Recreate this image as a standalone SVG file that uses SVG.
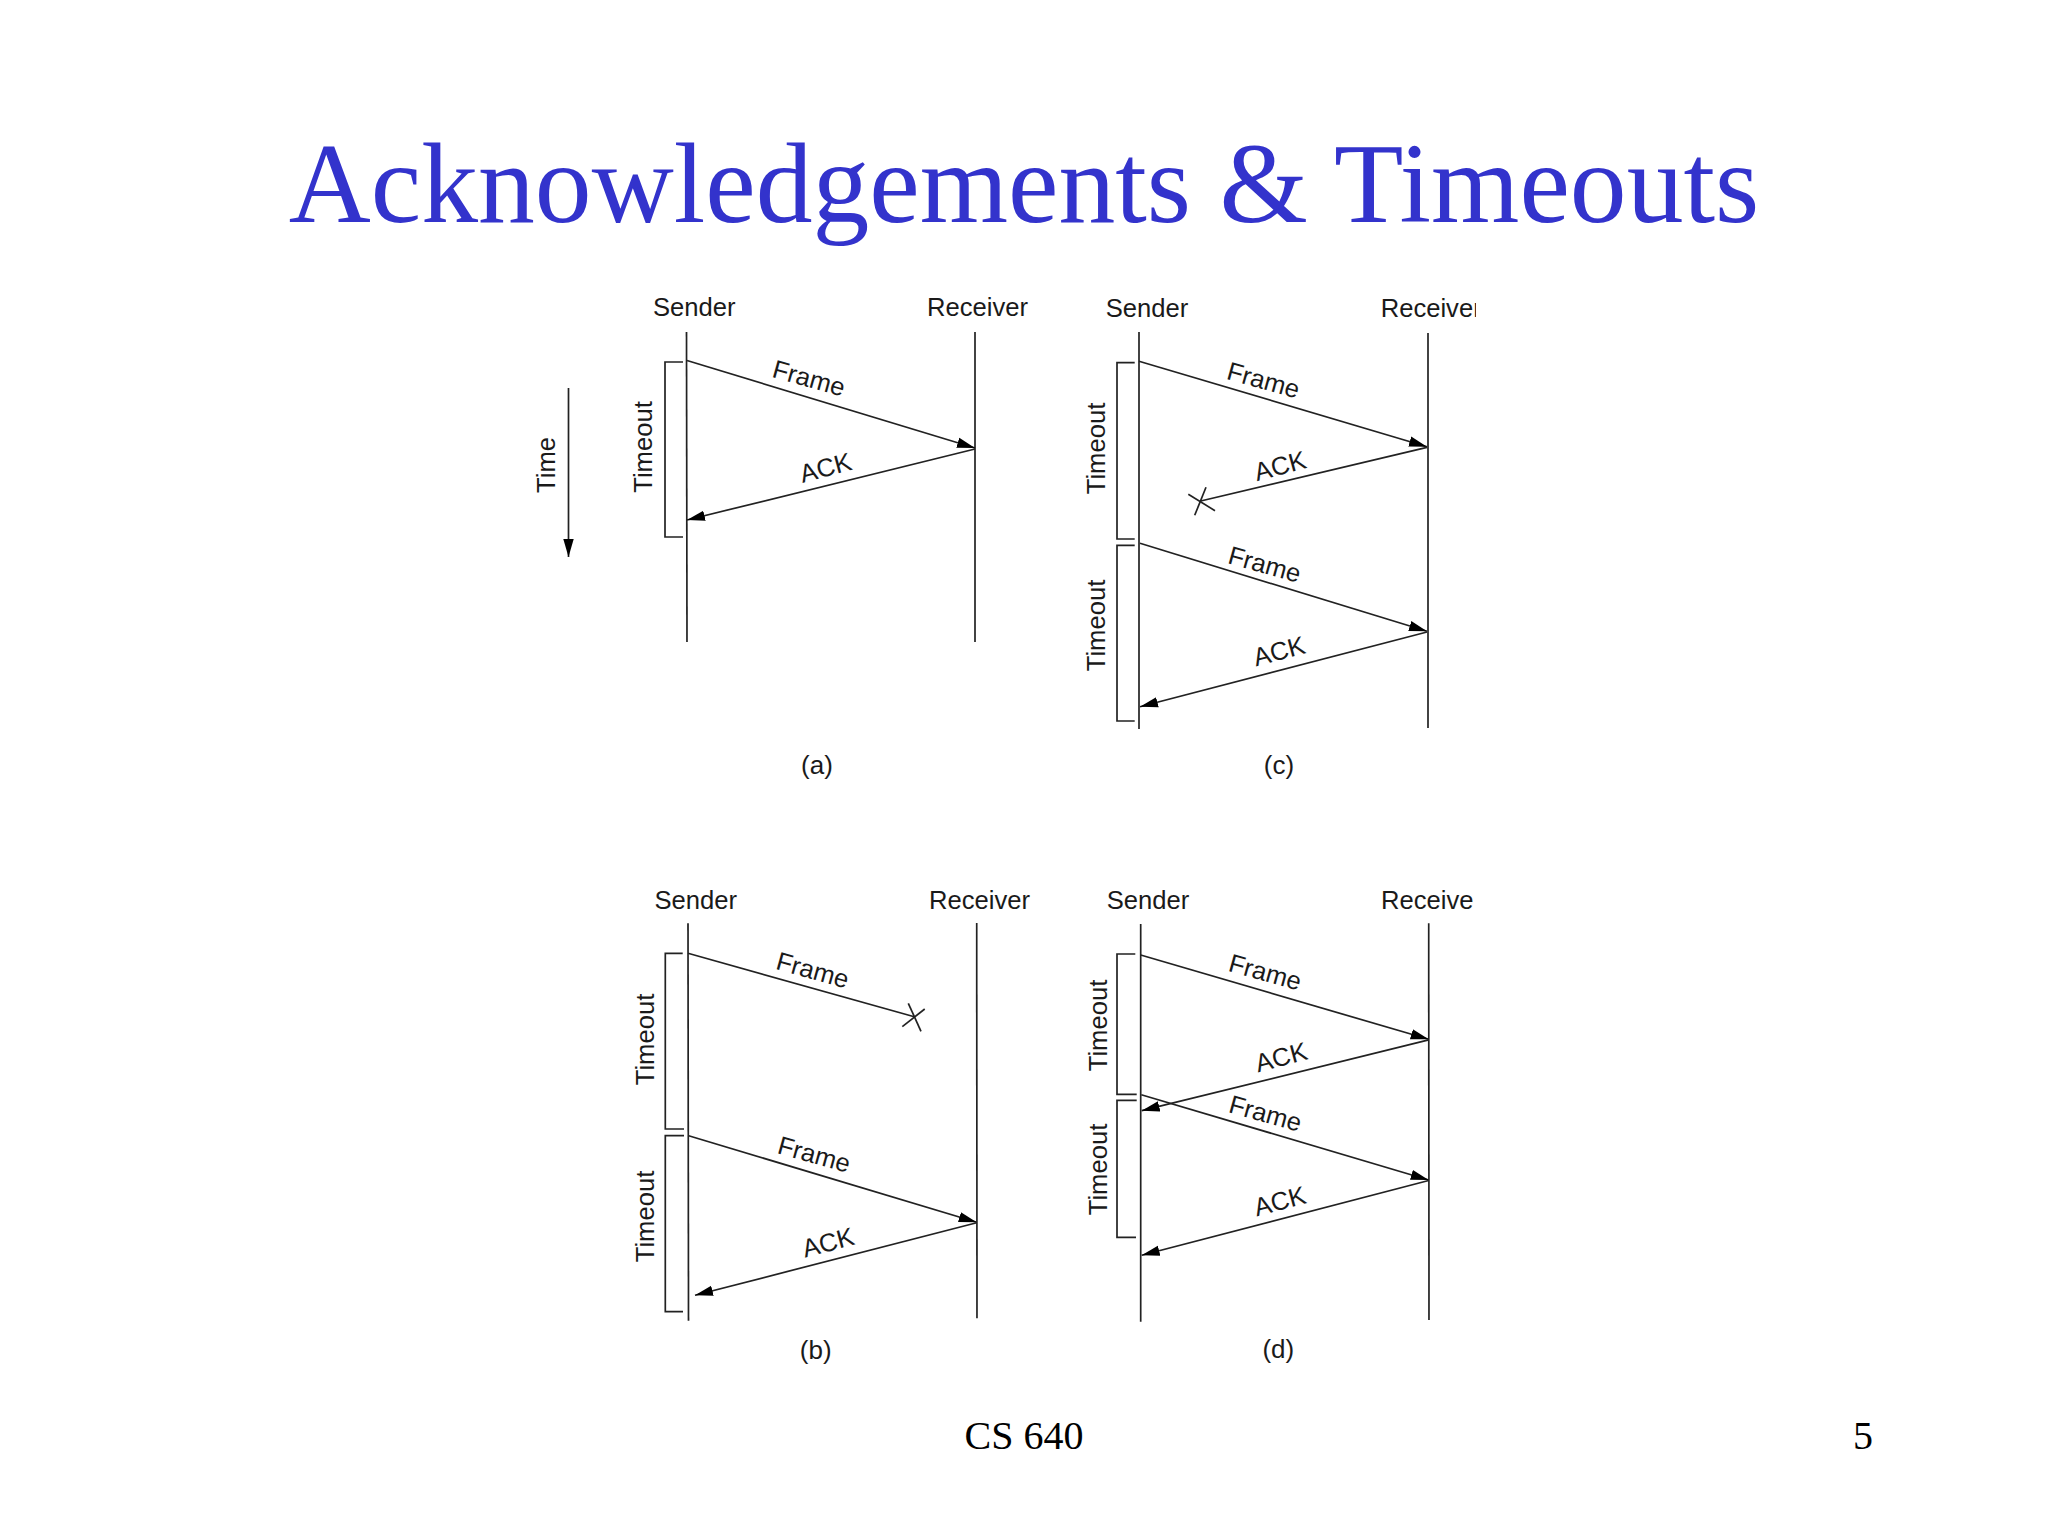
<svg xmlns="http://www.w3.org/2000/svg" width="2048" height="1536" viewBox="0 0 2048 1536">
<style>
.l{font-family:"Liberation Sans",Arial,sans-serif;font-size:25.6px;fill:#1a1a1a;text-anchor:middle}
.h{font-family:"Liberation Sans",Arial,sans-serif;font-size:25.6px;fill:#1a1a1a}
.c{font-size:26px}
.s{font-family:"Liberation Serif","Times New Roman",serif;fill:#000}
.ln{stroke:#222;stroke-width:1.7;fill:none}
.a{marker-end:url(#ah)}
</style>
<defs>
<marker id="ah" markerUnits="userSpaceOnUse" markerWidth="20" markerHeight="12" refX="18" refY="6" orient="auto"><path d="M0 0.8L18 6L0 11.2z" fill="#000"/></marker>
<clipPath id="clipc"><rect x="1370" y="290" width="106" height="40"/></clipPath>
</defs>
<rect width="2048" height="1536" fill="#fff"/>
<g id="title"><text class="s" x="1024" y="222" font-size="113.6" text-anchor="middle" style="fill:#3333cc">Acknowledgements &amp; Timeouts</text></g>
<g id="footer"><text class="s" x="1024" y="1449" font-size="40" text-anchor="middle">CS 640</text><text class="s" x="1863" y="1449" font-size="40" text-anchor="middle">5</text></g>

<g id="time"><line class="ln a" x1="568.5" y1="388" x2="568.5" y2="557"/><text class="l" transform="translate(546 465) rotate(-90)" y="9">Time</text></g>

<g id="a-sender"><line class="ln" x1="686.5" y1="332" x2="687" y2="642"/><text class="h" x="653" y="316">Sender</text></g>
<g id="a-receiver"><line class="ln" x1="975" y1="332" x2="975" y2="642"/><text class="h" x="927" y="316">Receiver</text></g>
<g id="a-timeout"><path class="ln" d="M683 362H665V537H683"/><text class="l" transform="translate(643 447) rotate(-90)" y="9">Timeout</text></g>
<g id="a-labels"><text class="l" transform="translate(809 378) rotate(15.5)" y="9">Frame</text><text class="l" transform="translate(825.5 467.5) rotate(-15)" y="9">ACK</text><text class="l c" x="817" y="774">(a)</text></g>

<g id="c-sender"><line class="ln" x1="1139" y1="332" x2="1139" y2="729"/><text class="h" x="1105.7" y="317">Sender</text></g>
<g id="c-receiver"><line class="ln" x1="1428" y1="333" x2="1428" y2="728"/><text class="h" x="1380.7" y="317" clip-path="url(#clipc)">Receiver</text></g>
<g id="c-timeout-1"><path class="ln" d="M1134.7 362.7H1117V539H1134.7"/><text class="l" transform="translate(1096 448.5) rotate(-90)" y="9">Timeout</text></g>
<g id="c-timeout-2"><path class="ln" d="M1134.7 545.3H1117V721H1134.7"/><text class="l" transform="translate(1096 625.5) rotate(-90)" y="9">Timeout</text></g>
<g id="c-labels"><text class="l" transform="translate(1263.5 380) rotate(15.5)" y="9">Frame</text><text class="l" transform="translate(1280 465.7) rotate(-15)" y="9">ACK</text><text class="l" transform="translate(1264.8 564.3) rotate(15.5)" y="9">Frame</text><text class="l" transform="translate(1279 651) rotate(-15)" y="9">ACK</text><text class="l c" x="1279" y="774">(c)</text></g>

<g id="b-sender"><line class="ln" x1="688" y1="923.3" x2="688.5" y2="1320.7"/><text class="h" x="654.5" y="908.6">Sender</text></g>
<g id="b-receiver"><line class="ln" x1="976.7" y1="923" x2="977" y2="1318.3"/><text class="h" x="929" y="908.6">Receiver</text></g>
<g id="b-timeout-1"><path class="ln" d="M682.7 953.3H665.3V1129H684"/><text class="l" transform="translate(644.7 1039.5) rotate(-90)" y="9">Timeout</text></g>
<g id="b-timeout-2"><path class="ln" d="M684 1135.7H665.3V1311.7H683"/><text class="l" transform="translate(645.2 1216.5) rotate(-90)" y="9">Timeout</text></g>
<g id="b-labels"><text class="l" transform="translate(812.7 970) rotate(15.5)" y="9">Frame</text><text class="l" transform="translate(814.3 1154.3) rotate(15.5)" y="9">Frame</text><text class="l" transform="translate(828 1242.3) rotate(-15)" y="9">ACK</text><text class="l c" x="815.7" y="1358.5">(b)</text></g>

<g id="d-sender"><line class="ln" x1="1140.7" y1="924" x2="1140.7" y2="1321.7"/><text class="h" x="1106.7" y="908.6">Sender</text></g>
<g id="d-receiver"><line class="ln" x1="1428.7" y1="923.3" x2="1429" y2="1320"/><text class="h" x="1381" y="908.6">Receive</text></g>
<g id="d-timeout-1"><path class="ln" d="M1135.3 954H1117V1094.3H1136.7"/><text class="l" transform="translate(1097.5 1025.5) rotate(-90)" y="9">Timeout</text></g>
<g id="d-timeout-2"><path class="ln" d="M1136.7 1100.3H1117V1237.3H1136"/><text class="l" transform="translate(1097.5 1169.5) rotate(-90)" y="9">Timeout</text></g>
<g id="d-labels"><text class="l" transform="translate(1265.2 972) rotate(15.5)" y="9">Frame</text><text class="l" transform="translate(1281.2 1057) rotate(-15)" y="9">ACK</text><text class="l" transform="translate(1265.5 1113.3) rotate(15.5)" y="9">Frame</text><text class="l" transform="translate(1279.8 1201) rotate(-15)" y="9">ACK</text><text class="l c" x="1278.3" y="1358">(d)</text></g>

<g id="connectors">
<line class="ln a" x1="687" y1="360.5" x2="975" y2="448"/>
<line class="ln a" x1="975" y1="449" x2="687" y2="520"/>
<line class="ln a" x1="1139" y1="361.3" x2="1427" y2="446.7"/>
<line class="ln" x1="1427" y1="447.3" x2="1200.7" y2="501"/>
<line class="ln" x1="1188.3" y1="494.3" x2="1215" y2="510.7"/>
<line class="ln" x1="1206" y1="487.3" x2="1194.7" y2="515.3"/>
<line class="ln a" x1="1140" y1="543.3" x2="1427" y2="631.3"/>
<line class="ln a" x1="1427" y1="632" x2="1140" y2="706.7"/>
<line class="ln" x1="688" y1="953.3" x2="914.3" y2="1016.7"/>
<line class="ln" x1="902.3" y1="1026.7" x2="924.7" y2="1009"/>
<line class="ln" x1="908.3" y1="1003.3" x2="921" y2="1031.3"/>
<line class="ln a" x1="688.7" y1="1135.7" x2="976.7" y2="1222.3"/>
<line class="ln a" x1="976.7" y1="1222.7" x2="695" y2="1295.3"/>
<line class="ln a" x1="1140.7" y1="955" x2="1428.7" y2="1039.3"/>
<line class="ln a" x1="1428.7" y1="1039.8" x2="1141.7" y2="1110.7"/>
<line class="ln a" x1="1141.3" y1="1094.7" x2="1428.7" y2="1180"/>
<line class="ln a" x1="1428.7" y1="1180.5" x2="1141.7" y2="1255.3"/>
</g>
</svg>
